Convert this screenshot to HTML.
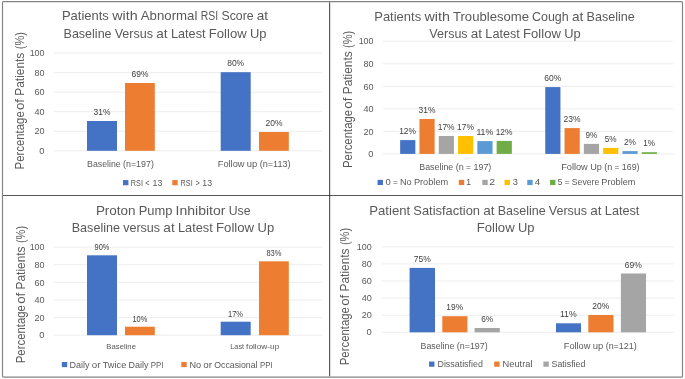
<!DOCTYPE html>
<html lang="en">
<head>
<meta charset="utf-8">
<title>Patient outcome charts</title>
<style>
html,body{margin:0;padding:0;background:#fff;}
body{width:685px;height:379px;overflow:hidden;}
svg{display:block;}
svg text{font-family:"Liberation Sans",sans-serif;}
</style>
</head>
<body>
<svg width="685" height="379" viewBox="0 0 685 379">
<rect x="2.5" y="1.6" width="680" height="375.5" rx="1" ry="1" fill="#fff" stroke="#828282" stroke-width="1.15"/>
<line x1="330.6" y1="2.5" x2="330.6" y2="376" stroke="#E9E9E9" stroke-width="1"/>
<g id="chart-rsi">
<line x1="54.00" y1="150.80" x2="322.00" y2="150.80" stroke="#EDEDED" stroke-width="1"/>
<text y="153.96" font-size="9.16" fill="#595959"><tspan x="39.35" textLength="5.22" lengthAdjust="spacingAndGlyphs">0</tspan></text>
<line x1="54.00" y1="131.25" x2="322.00" y2="131.25" stroke="#EDEDED" stroke-width="1"/>
<text y="134.41" font-size="9.16" fill="#595959"><tspan x="34.46" textLength="10.10" lengthAdjust="spacingAndGlyphs">20</tspan></text>
<line x1="54.00" y1="111.70" x2="322.00" y2="111.70" stroke="#EDEDED" stroke-width="1"/>
<text y="114.86" font-size="9.16" fill="#595959"><tspan x="34.43" textLength="10.13" lengthAdjust="spacingAndGlyphs">40</tspan></text>
<line x1="54.00" y1="92.15" x2="322.00" y2="92.15" stroke="#EDEDED" stroke-width="1"/>
<text y="95.31" font-size="9.16" fill="#595959"><tspan x="34.45" textLength="10.10" lengthAdjust="spacingAndGlyphs">60</tspan></text>
<line x1="54.00" y1="72.60" x2="322.00" y2="72.60" stroke="#EDEDED" stroke-width="1"/>
<text y="75.76" font-size="9.16" fill="#595959"><tspan x="34.47" textLength="10.08" lengthAdjust="spacingAndGlyphs">80</tspan></text>
<line x1="54.00" y1="53.05" x2="322.00" y2="53.05" stroke="#EDEDED" stroke-width="1"/>
<text y="56.21" font-size="9.16" fill="#595959"><tspan x="29.65" textLength="14.90" lengthAdjust="spacingAndGlyphs">100</tspan></text>
<rect x="87.00" y="121.00" width="30.00" height="29.80" fill="#4472C4"/>
<rect x="125.00" y="83.00" width="29.80" height="67.80" fill="#ED7D31"/>
<rect x="220.70" y="72.20" width="30.00" height="78.60" fill="#4472C4"/>
<rect x="259.00" y="132.00" width="29.80" height="18.80" fill="#ED7D31"/>
<text y="115.16" font-size="9.16" fill="#404040"><tspan x="93.55" textLength="16.87" lengthAdjust="spacingAndGlyphs">31%</tspan></text>
<text y="77.16" font-size="9.16" fill="#404040"><tspan x="131.44" textLength="17.00" lengthAdjust="spacingAndGlyphs">69%</tspan></text>
<text y="66.36" font-size="9.16" fill="#404040"><tspan x="227.17" textLength="16.99" lengthAdjust="spacingAndGlyphs">80%</tspan></text>
<text y="126.16" font-size="9.16" fill="#404040"><tspan x="265.44" textLength="17.00" lengthAdjust="spacingAndGlyphs">20%</tspan></text>
<text y="167.16" font-size="9.19" fill="#595959"><tspan x="87.08" textLength="33.60" lengthAdjust="spacingAndGlyphs">Baseline</tspan> <tspan x="123.06" textLength="30.79" lengthAdjust="spacingAndGlyphs">(n=197)</tspan></text>
<text y="167.16" font-size="9.22" fill="#595959"><tspan x="217.84" textLength="26.62" lengthAdjust="spacingAndGlyphs">Follow</tspan> <tspan x="246.82" textLength="10.46" lengthAdjust="spacingAndGlyphs">up</tspan> <tspan x="259.66" textLength="30.89" lengthAdjust="spacingAndGlyphs">(n=113)</tspan></text>
<rect x="123.00" y="180.05" width="5.40" height="5.20" fill="#4472C4"/>
<text y="185.66" font-size="9.16" fill="#595959"><tspan x="130.80" textLength="12.11" lengthAdjust="spacingAndGlyphs">RSI</tspan> <tspan x="145.35" textLength="4.32" lengthAdjust="spacingAndGlyphs">&lt;</tspan> <tspan x="152.57" textLength="9.81" lengthAdjust="spacingAndGlyphs">13</tspan></text>
<rect x="172.30" y="180.05" width="5.40" height="5.20" fill="#ED7D31"/>
<text y="185.66" font-size="9.13" fill="#595959"><tspan x="180.61" textLength="12.07" lengthAdjust="spacingAndGlyphs">RSI</tspan> <tspan x="195.53" textLength="4.30" lengthAdjust="spacingAndGlyphs">&gt;</tspan> <tspan x="202.31" textLength="9.78" lengthAdjust="spacingAndGlyphs">13</tspan></text>
<text y="20.30" font-size="13.16" fill="#595959"><tspan x="61.94" textLength="46.85" lengthAdjust="spacingAndGlyphs">Patients</tspan> <tspan x="112.16" textLength="25.43" lengthAdjust="spacingAndGlyphs">with</tspan> <tspan x="140.75" textLength="56.60" lengthAdjust="spacingAndGlyphs">Abnormal</tspan> <tspan x="200.84" textLength="17.39" lengthAdjust="spacingAndGlyphs">RSI</tspan> <tspan x="221.45" textLength="32.13" lengthAdjust="spacingAndGlyphs">Score</tspan> <tspan x="256.74" textLength="11.36" lengthAdjust="spacingAndGlyphs">at</tspan></text>
<text y="38.00" font-size="13.13" fill="#595959"><tspan x="63.57" textLength="47.99" lengthAdjust="spacingAndGlyphs">Baseline</tspan> <tspan x="114.70" textLength="38.40" lengthAdjust="spacingAndGlyphs">Versus</tspan> <tspan x="156.32" textLength="11.34" lengthAdjust="spacingAndGlyphs">at</tspan> <tspan x="170.91" textLength="34.64" lengthAdjust="spacingAndGlyphs">Latest</tspan> <tspan x="208.77" textLength="37.90" lengthAdjust="spacingAndGlyphs">Follow</tspan> <tspan x="250.00" textLength="16.54" lengthAdjust="spacingAndGlyphs">Up</tspan></text>
<text transform="translate(23.66 168.50) rotate(-90)" y="0" font-size="11.90" fill="#595959"><tspan x="-0.93" textLength="58.14" lengthAdjust="spacingAndGlyphs">Percentage</tspan> <tspan x="58.44" textLength="11.14" lengthAdjust="spacingAndGlyphs">of</tspan> <tspan x="72.82" textLength="43.01" lengthAdjust="spacingAndGlyphs">Patients</tspan> <tspan x="119.22" textLength="17.17" lengthAdjust="spacingAndGlyphs">(%)</tspan></text>
</g>
<g id="chart-cough">
<line x1="382.70" y1="153.90" x2="673.50" y2="153.90" stroke="#EDEDED" stroke-width="1"/>
<text y="157.06" font-size="9.16" fill="#595959"><tspan x="368.35" textLength="5.22" lengthAdjust="spacingAndGlyphs">0</tspan></text>
<line x1="382.70" y1="131.38" x2="673.50" y2="131.38" stroke="#EDEDED" stroke-width="1"/>
<text y="134.54" font-size="9.16" fill="#595959"><tspan x="363.46" textLength="10.10" lengthAdjust="spacingAndGlyphs">20</tspan></text>
<line x1="382.70" y1="108.86" x2="673.50" y2="108.86" stroke="#EDEDED" stroke-width="1"/>
<text y="112.02" font-size="9.16" fill="#595959"><tspan x="363.43" textLength="10.13" lengthAdjust="spacingAndGlyphs">40</tspan></text>
<line x1="382.70" y1="86.34" x2="673.50" y2="86.34" stroke="#EDEDED" stroke-width="1"/>
<text y="89.50" font-size="9.16" fill="#595959"><tspan x="363.45" textLength="10.10" lengthAdjust="spacingAndGlyphs">60</tspan></text>
<line x1="382.70" y1="63.82" x2="673.50" y2="63.82" stroke="#EDEDED" stroke-width="1"/>
<text y="66.98" font-size="9.16" fill="#595959"><tspan x="363.47" textLength="10.08" lengthAdjust="spacingAndGlyphs">80</tspan></text>
<line x1="382.70" y1="41.30" x2="673.50" y2="41.30" stroke="#EDEDED" stroke-width="1"/>
<text y="44.46" font-size="9.16" fill="#595959"><tspan x="358.65" textLength="14.90" lengthAdjust="spacingAndGlyphs">100</tspan></text>
<rect x="400.15" y="140.10" width="15.20" height="13.80" fill="#4472C4"/>
<rect x="419.45" y="119.00" width="15.20" height="34.90" fill="#ED7D31"/>
<rect x="438.75" y="136.00" width="15.20" height="17.90" fill="#A5A5A5"/>
<rect x="458.05" y="136.00" width="15.20" height="17.90" fill="#FFC000"/>
<rect x="477.35" y="141.10" width="15.20" height="12.80" fill="#5B9BD5"/>
<rect x="496.65" y="140.90" width="15.20" height="13.00" fill="#70AD47"/>
<rect x="545.25" y="87.10" width="15.20" height="66.80" fill="#4472C4"/>
<rect x="564.55" y="128.10" width="15.20" height="25.80" fill="#ED7D31"/>
<rect x="583.85" y="143.90" width="15.20" height="10.00" fill="#A5A5A5"/>
<rect x="603.15" y="147.90" width="15.20" height="6.00" fill="#FFC000"/>
<rect x="622.45" y="151.10" width="15.20" height="2.80" fill="#5B9BD5"/>
<rect x="641.75" y="152.20" width="15.20" height="1.70" fill="#70AD47"/>
<text y="134.26" font-size="9.16" fill="#404040"><tspan x="399.18" textLength="16.80" lengthAdjust="spacingAndGlyphs">12%</tspan></text>
<text y="113.16" font-size="9.16" fill="#404040"><tspan x="418.60" textLength="16.87" lengthAdjust="spacingAndGlyphs">31%</tspan></text>
<text y="130.16" font-size="9.16" fill="#404040"><tspan x="437.78" textLength="16.80" lengthAdjust="spacingAndGlyphs">17%</tspan></text>
<text y="130.16" font-size="9.16" fill="#404040"><tspan x="457.08" textLength="16.80" lengthAdjust="spacingAndGlyphs">17%</tspan></text>
<text y="135.26" font-size="9.16" fill="#404040"><tspan x="476.38" textLength="16.80" lengthAdjust="spacingAndGlyphs">11%</tspan></text>
<text y="135.06" font-size="9.16" fill="#404040"><tspan x="495.68" textLength="16.80" lengthAdjust="spacingAndGlyphs">12%</tspan></text>
<text y="81.26" font-size="9.16" fill="#404040"><tspan x="544.29" textLength="17.00" lengthAdjust="spacingAndGlyphs">60%</tspan></text>
<text y="122.26" font-size="9.16" fill="#404040"><tspan x="563.59" textLength="17.00" lengthAdjust="spacingAndGlyphs">23%</tspan></text>
<text y="138.06" font-size="9.16" fill="#404040"><tspan x="585.53" textLength="11.76" lengthAdjust="spacingAndGlyphs">9%</tspan></text>
<text y="142.06" font-size="9.16" fill="#404040"><tspan x="604.79" textLength="11.89" lengthAdjust="spacingAndGlyphs">5%</tspan></text>
<text y="145.26" font-size="9.16" fill="#404040"><tspan x="624.00" textLength="11.99" lengthAdjust="spacingAndGlyphs">2%</tspan></text>
<text y="146.36" font-size="9.16" fill="#404040"><tspan x="643.30" textLength="11.78" lengthAdjust="spacingAndGlyphs">1%</tspan></text>
<text y="170.16" font-size="9.30" fill="#595959"><tspan x="419.27" textLength="34.00" lengthAdjust="spacingAndGlyphs">Baseline</tspan> <tspan x="455.67" textLength="8.10" lengthAdjust="spacingAndGlyphs">(n</tspan> <tspan x="466.10" textLength="4.88" lengthAdjust="spacingAndGlyphs">=</tspan> <tspan x="473.48" textLength="17.88" lengthAdjust="spacingAndGlyphs">197)</tspan></text>
<text y="170.16" font-size="9.23" fill="#595959"><tspan x="561.14" textLength="26.64" lengthAdjust="spacingAndGlyphs">Follow</tspan> <tspan x="590.13" textLength="11.63" lengthAdjust="spacingAndGlyphs">Up</tspan> <tspan x="604.14" textLength="8.04" lengthAdjust="spacingAndGlyphs">(n</tspan> <tspan x="614.49" textLength="4.84" lengthAdjust="spacingAndGlyphs">=</tspan> <tspan x="621.81" textLength="17.74" lengthAdjust="spacingAndGlyphs">169)</tspan></text>
<rect x="377.55" y="179.85" width="5.40" height="5.20" fill="#4472C4"/>
<text y="185.46" font-size="9.26" fill="#595959"><tspan x="385.43" textLength="5.27" lengthAdjust="spacingAndGlyphs">0</tspan> <tspan x="392.89" textLength="4.85" lengthAdjust="spacingAndGlyphs">=</tspan> <tspan x="400.01" textLength="11.73" lengthAdjust="spacingAndGlyphs">No</tspan> <tspan x="413.92" textLength="34.28" lengthAdjust="spacingAndGlyphs">Problem</tspan></text>
<rect x="458.80" y="179.85" width="5.40" height="5.20" fill="#ED7D31"/>
<text y="185.46" font-size="9.16" fill="#595959"><tspan x="466.35" textLength="4.77" lengthAdjust="spacingAndGlyphs">1</tspan></text>
<rect x="482.30" y="179.85" width="5.40" height="5.20" fill="#A5A5A5"/>
<text y="185.46" font-size="9.16" fill="#595959"><tspan x="489.27" textLength="5.86" lengthAdjust="spacingAndGlyphs">2</tspan></text>
<rect x="504.50" y="179.85" width="5.40" height="5.20" fill="#FFC000"/>
<text y="185.46" font-size="9.16" fill="#595959"><tspan x="512.85" textLength="5.16" lengthAdjust="spacingAndGlyphs">3</tspan></text>
<rect x="527.25" y="179.85" width="5.40" height="5.20" fill="#5B9BD5"/>
<text y="185.46" font-size="9.16" fill="#595959"><tspan x="534.77" textLength="5.52" lengthAdjust="spacingAndGlyphs">4</tspan></text>
<rect x="550.05" y="179.85" width="5.40" height="5.20" fill="#70AD47"/>
<text y="185.46" font-size="9.19" fill="#595959"><tspan x="557.66" textLength="4.66" lengthAdjust="spacingAndGlyphs">5</tspan> <tspan x="564.85" textLength="4.82" lengthAdjust="spacingAndGlyphs">=</tspan> <tspan x="571.83" textLength="27.36" lengthAdjust="spacingAndGlyphs">Severe</tspan> <tspan x="601.35" textLength="34.05" lengthAdjust="spacingAndGlyphs">Problem</tspan></text>
<text y="20.60" font-size="13.17" fill="#595959"><tspan x="374.24" textLength="46.90" lengthAdjust="spacingAndGlyphs">Patients</tspan> <tspan x="424.51" textLength="25.46" lengthAdjust="spacingAndGlyphs">with</tspan> <tspan x="452.98" textLength="76.04" lengthAdjust="spacingAndGlyphs">Troublesome</tspan> <tspan x="531.99" textLength="36.68" lengthAdjust="spacingAndGlyphs">Cough</tspan> <tspan x="571.93" textLength="11.38" lengthAdjust="spacingAndGlyphs">at</tspan> <tspan x="586.62" textLength="48.14" lengthAdjust="spacingAndGlyphs">Baseline</tspan></text>
<text y="38.40" font-size="13.08" fill="#595959"><tspan x="429.35" textLength="38.26" lengthAdjust="spacingAndGlyphs">Versus</tspan> <tspan x="470.82" textLength="11.30" lengthAdjust="spacingAndGlyphs">at</tspan> <tspan x="485.35" textLength="34.51" lengthAdjust="spacingAndGlyphs">Latest</tspan> <tspan x="523.08" textLength="37.76" lengthAdjust="spacingAndGlyphs">Follow</tspan> <tspan x="564.16" textLength="16.48" lengthAdjust="spacingAndGlyphs">Up</tspan></text>
<text transform="translate(352.26 167.10) rotate(-90)" y="0" font-size="11.90" fill="#595959"><tspan x="-0.93" textLength="58.14" lengthAdjust="spacingAndGlyphs">Percentage</tspan> <tspan x="58.44" textLength="11.14" lengthAdjust="spacingAndGlyphs">of</tspan> <tspan x="72.82" textLength="43.01" lengthAdjust="spacingAndGlyphs">Patients</tspan> <tspan x="119.22" textLength="17.17" lengthAdjust="spacingAndGlyphs">(%)</tspan></text>
</g>
<g id="chart-ppi">
<line x1="54.00" y1="335.20" x2="322.00" y2="335.20" stroke="#EDEDED" stroke-width="1"/>
<text y="338.36" font-size="9.16" fill="#595959"><tspan x="39.35" textLength="5.22" lengthAdjust="spacingAndGlyphs">0</tspan></text>
<line x1="54.00" y1="317.58" x2="322.00" y2="317.58" stroke="#EDEDED" stroke-width="1"/>
<text y="320.74" font-size="9.16" fill="#595959"><tspan x="34.46" textLength="10.10" lengthAdjust="spacingAndGlyphs">20</tspan></text>
<line x1="54.00" y1="299.96" x2="322.00" y2="299.96" stroke="#EDEDED" stroke-width="1"/>
<text y="303.12" font-size="9.16" fill="#595959"><tspan x="34.43" textLength="10.13" lengthAdjust="spacingAndGlyphs">40</tspan></text>
<line x1="54.00" y1="282.34" x2="322.00" y2="282.34" stroke="#EDEDED" stroke-width="1"/>
<text y="285.50" font-size="9.16" fill="#595959"><tspan x="34.45" textLength="10.10" lengthAdjust="spacingAndGlyphs">60</tspan></text>
<line x1="54.00" y1="264.72" x2="322.00" y2="264.72" stroke="#EDEDED" stroke-width="1"/>
<text y="267.88" font-size="9.16" fill="#595959"><tspan x="34.47" textLength="10.08" lengthAdjust="spacingAndGlyphs">80</tspan></text>
<line x1="54.00" y1="247.10" x2="322.00" y2="247.10" stroke="#EDEDED" stroke-width="1"/>
<text y="250.26" font-size="9.16" fill="#595959"><tspan x="29.65" textLength="14.90" lengthAdjust="spacingAndGlyphs">100</tspan></text>
<rect x="87.00" y="255.30" width="30.00" height="79.90" fill="#4472C4"/>
<rect x="125.00" y="326.70" width="29.80" height="8.50" fill="#ED7D31"/>
<rect x="220.70" y="321.70" width="30.00" height="13.50" fill="#4472C4"/>
<rect x="259.00" y="261.30" width="29.80" height="73.90" fill="#ED7D31"/>
<text y="250.11" font-size="8.14" fill="#404040"><tspan x="94.51" textLength="14.90" lengthAdjust="spacingAndGlyphs">90%</tspan></text>
<text y="321.51" font-size="8.14" fill="#404040"><tspan x="132.39" textLength="14.92" lengthAdjust="spacingAndGlyphs">10%</tspan></text>
<text y="316.51" font-size="8.14" fill="#404040"><tspan x="228.09" textLength="14.92" lengthAdjust="spacingAndGlyphs">17%</tspan></text>
<text y="256.11" font-size="8.14" fill="#404040"><tspan x="266.43" textLength="15.09" lengthAdjust="spacingAndGlyphs">83%</tspan></text>
<text y="349.11" font-size="8.09" fill="#595959"><tspan x="106.37" textLength="29.58" lengthAdjust="spacingAndGlyphs">Baseline</tspan></text>
<text y="349.11" font-size="7.93" fill="#595959"><tspan x="230.30" textLength="13.79" lengthAdjust="spacingAndGlyphs">Last</tspan> <tspan x="246.10" textLength="33.25" lengthAdjust="spacingAndGlyphs">follow-up</tspan></text>
<rect x="61.80" y="361.95" width="5.40" height="5.20" fill="#4472C4"/>
<text y="367.56" font-size="9.26" fill="#595959"><tspan x="69.56" textLength="19.98" lengthAdjust="spacingAndGlyphs">Daily</tspan> <tspan x="91.80" textLength="8.74" lengthAdjust="spacingAndGlyphs">or</tspan> <tspan x="102.74" textLength="23.55" lengthAdjust="spacingAndGlyphs">Twice</tspan> <tspan x="128.43" textLength="19.98" lengthAdjust="spacingAndGlyphs">Daily</tspan> <tspan x="150.79" textLength="12.64" lengthAdjust="spacingAndGlyphs">PPI</tspan></text>
<rect x="181.30" y="361.95" width="5.40" height="5.20" fill="#ED7D31"/>
<text y="367.56" font-size="9.22" fill="#595959"><tspan x="189.45" textLength="11.69" lengthAdjust="spacingAndGlyphs">No</tspan> <tspan x="203.31" textLength="8.71" lengthAdjust="spacingAndGlyphs">or</tspan> <tspan x="214.22" textLength="43.27" lengthAdjust="spacingAndGlyphs">Occasional</tspan> <tspan x="259.93" textLength="12.59" lengthAdjust="spacingAndGlyphs">PPI</tspan></text>
<text y="214.60" font-size="13.24" fill="#595959"><tspan x="95.90" textLength="39.68" lengthAdjust="spacingAndGlyphs">Proton</tspan> <tspan x="138.75" textLength="33.76" lengthAdjust="spacingAndGlyphs">Pump</tspan> <tspan x="175.56" textLength="49.90" lengthAdjust="spacingAndGlyphs">Inhibitor</tspan> <tspan x="228.75" textLength="21.79" lengthAdjust="spacingAndGlyphs">Use</tspan></text>
<text y="232.20" font-size="13.20" fill="#595959"><tspan x="71.72" textLength="48.25" lengthAdjust="spacingAndGlyphs">Baseline</tspan> <tspan x="123.22" textLength="36.87" lengthAdjust="spacingAndGlyphs">versus</tspan> <tspan x="163.32" textLength="11.40" lengthAdjust="spacingAndGlyphs">at</tspan> <tspan x="177.99" textLength="34.83" lengthAdjust="spacingAndGlyphs">Latest</tspan> <tspan x="216.06" textLength="38.10" lengthAdjust="spacingAndGlyphs">Follow</tspan> <tspan x="257.51" textLength="16.63" lengthAdjust="spacingAndGlyphs">Up</tspan></text>
<text transform="translate(25.06 362.30) rotate(-90)" y="0" font-size="11.90" fill="#595959"><tspan x="-0.93" textLength="58.14" lengthAdjust="spacingAndGlyphs">Percentage</tspan> <tspan x="58.44" textLength="11.14" lengthAdjust="spacingAndGlyphs">of</tspan> <tspan x="72.82" textLength="43.01" lengthAdjust="spacingAndGlyphs">Patients</tspan> <tspan x="119.22" textLength="17.17" lengthAdjust="spacingAndGlyphs">(%)</tspan></text>
</g>
<g id="chart-satisfaction">
<line x1="382.00" y1="332.30" x2="673.80" y2="332.30" stroke="#EDEDED" stroke-width="1"/>
<text y="335.46" font-size="9.16" fill="#595959"><tspan x="366.55" textLength="5.22" lengthAdjust="spacingAndGlyphs">0</tspan></text>
<line x1="382.00" y1="315.20" x2="673.80" y2="315.20" stroke="#EDEDED" stroke-width="1"/>
<text y="318.36" font-size="9.16" fill="#595959"><tspan x="361.66" textLength="10.10" lengthAdjust="spacingAndGlyphs">20</tspan></text>
<line x1="382.00" y1="298.10" x2="673.80" y2="298.10" stroke="#EDEDED" stroke-width="1"/>
<text y="301.26" font-size="9.16" fill="#595959"><tspan x="361.63" textLength="10.13" lengthAdjust="spacingAndGlyphs">40</tspan></text>
<line x1="382.00" y1="281.00" x2="673.80" y2="281.00" stroke="#EDEDED" stroke-width="1"/>
<text y="284.16" font-size="9.16" fill="#595959"><tspan x="361.65" textLength="10.10" lengthAdjust="spacingAndGlyphs">60</tspan></text>
<line x1="382.00" y1="263.90" x2="673.80" y2="263.90" stroke="#EDEDED" stroke-width="1"/>
<text y="267.06" font-size="9.16" fill="#595959"><tspan x="361.67" textLength="10.08" lengthAdjust="spacingAndGlyphs">80</tspan></text>
<line x1="382.00" y1="246.80" x2="673.80" y2="246.80" stroke="#EDEDED" stroke-width="1"/>
<text y="249.96" font-size="9.16" fill="#595959"><tspan x="356.85" textLength="14.90" lengthAdjust="spacingAndGlyphs">100</tspan></text>
<rect x="409.60" y="267.90" width="25.40" height="64.40" fill="#4472C4"/>
<rect x="442.30" y="316.20" width="25.10" height="16.10" fill="#ED7D31"/>
<rect x="474.60" y="328.00" width="25.20" height="4.30" fill="#A5A5A5"/>
<rect x="556.00" y="323.30" width="25.00" height="9.00" fill="#4472C4"/>
<rect x="588.30" y="315.00" width="25.20" height="17.30" fill="#ED7D31"/>
<rect x="620.90" y="273.50" width="25.10" height="58.80" fill="#A5A5A5"/>
<text y="262.06" font-size="9.16" fill="#404040"><tspan x="413.85" textLength="16.97" lengthAdjust="spacingAndGlyphs">75%</tspan></text>
<text y="310.36" font-size="9.16" fill="#404040"><tspan x="446.33" textLength="16.80" lengthAdjust="spacingAndGlyphs">19%</tspan></text>
<text y="322.16" font-size="9.16" fill="#404040"><tspan x="481.14" textLength="11.99" lengthAdjust="spacingAndGlyphs">6%</tspan></text>
<text y="317.46" font-size="9.16" fill="#404040"><tspan x="559.93" textLength="16.80" lengthAdjust="spacingAndGlyphs">11%</tspan></text>
<text y="309.16" font-size="9.16" fill="#404040"><tspan x="592.34" textLength="17.00" lengthAdjust="spacingAndGlyphs">20%</tspan></text>
<text y="267.66" font-size="9.16" fill="#404040"><tspan x="624.84" textLength="17.00" lengthAdjust="spacingAndGlyphs">69%</tspan></text>
<text y="348.96" font-size="9.25" fill="#595959"><tspan x="420.58" textLength="33.80" lengthAdjust="spacingAndGlyphs">Baseline</tspan> <tspan x="456.77" textLength="30.98" lengthAdjust="spacingAndGlyphs">(n=197)</tspan></text>
<text y="348.96" font-size="9.25" fill="#595959"><tspan x="563.74" textLength="26.69" lengthAdjust="spacingAndGlyphs">Follow</tspan> <tspan x="592.80" textLength="10.49" lengthAdjust="spacingAndGlyphs">up</tspan> <tspan x="605.68" textLength="30.97" lengthAdjust="spacingAndGlyphs">(n=121)</tspan></text>
<rect x="429.05" y="361.55" width="5.40" height="5.20" fill="#4472C4"/>
<text y="367.16" font-size="9.15" fill="#595959"><tspan x="437.47" textLength="45.40" lengthAdjust="spacingAndGlyphs">Dissatisfied</tspan></text>
<rect x="494.20" y="361.55" width="5.40" height="5.20" fill="#ED7D31"/>
<text y="367.16" font-size="9.12" fill="#595959"><tspan x="502.54" textLength="29.99" lengthAdjust="spacingAndGlyphs">Neutral</tspan></text>
<rect x="543.40" y="361.55" width="5.40" height="5.20" fill="#A5A5A5"/>
<text y="367.16" font-size="9.09" fill="#595959"><tspan x="551.60" textLength="33.77" lengthAdjust="spacingAndGlyphs">Satisfied</tspan></text>
<text y="215.10" font-size="13.10" fill="#595959"><tspan x="369.22" textLength="41.01" lengthAdjust="spacingAndGlyphs">Patient</tspan> <tspan x="413.35" textLength="66.62" lengthAdjust="spacingAndGlyphs">Satisfaction</tspan> <tspan x="483.18" textLength="11.31" lengthAdjust="spacingAndGlyphs">at</tspan> <tspan x="497.79" textLength="47.86" lengthAdjust="spacingAndGlyphs">Baseline</tspan> <tspan x="548.78" textLength="38.30" lengthAdjust="spacingAndGlyphs">Versus</tspan> <tspan x="590.29" textLength="11.31" lengthAdjust="spacingAndGlyphs">at</tspan> <tspan x="604.85" textLength="34.55" lengthAdjust="spacingAndGlyphs">Latest</tspan></text>
<text y="232.20" font-size="13.14" fill="#595959"><tspan x="476.72" textLength="37.93" lengthAdjust="spacingAndGlyphs">Follow</tspan> <tspan x="517.99" textLength="16.56" lengthAdjust="spacingAndGlyphs">Up</tspan></text>
<text transform="translate(349.36 364.30) rotate(-90)" y="0" font-size="11.90" fill="#595959"><tspan x="-0.93" textLength="58.14" lengthAdjust="spacingAndGlyphs">Percentage</tspan> <tspan x="58.44" textLength="11.14" lengthAdjust="spacingAndGlyphs">of</tspan> <tspan x="72.82" textLength="43.01" lengthAdjust="spacingAndGlyphs">Patients</tspan> <tspan x="119.22" textLength="17.17" lengthAdjust="spacingAndGlyphs">(%)</tspan></text>
</g>
<line x1="329.55" y1="2.2" x2="329.55" y2="376.2" stroke="#000" stroke-opacity="0.66" stroke-width="1.05"/>
<line x1="3" y1="195.45" x2="682" y2="195.45" stroke="#000" stroke-opacity="0.66" stroke-width="1.05"/>
</svg>
</body>
</html>
